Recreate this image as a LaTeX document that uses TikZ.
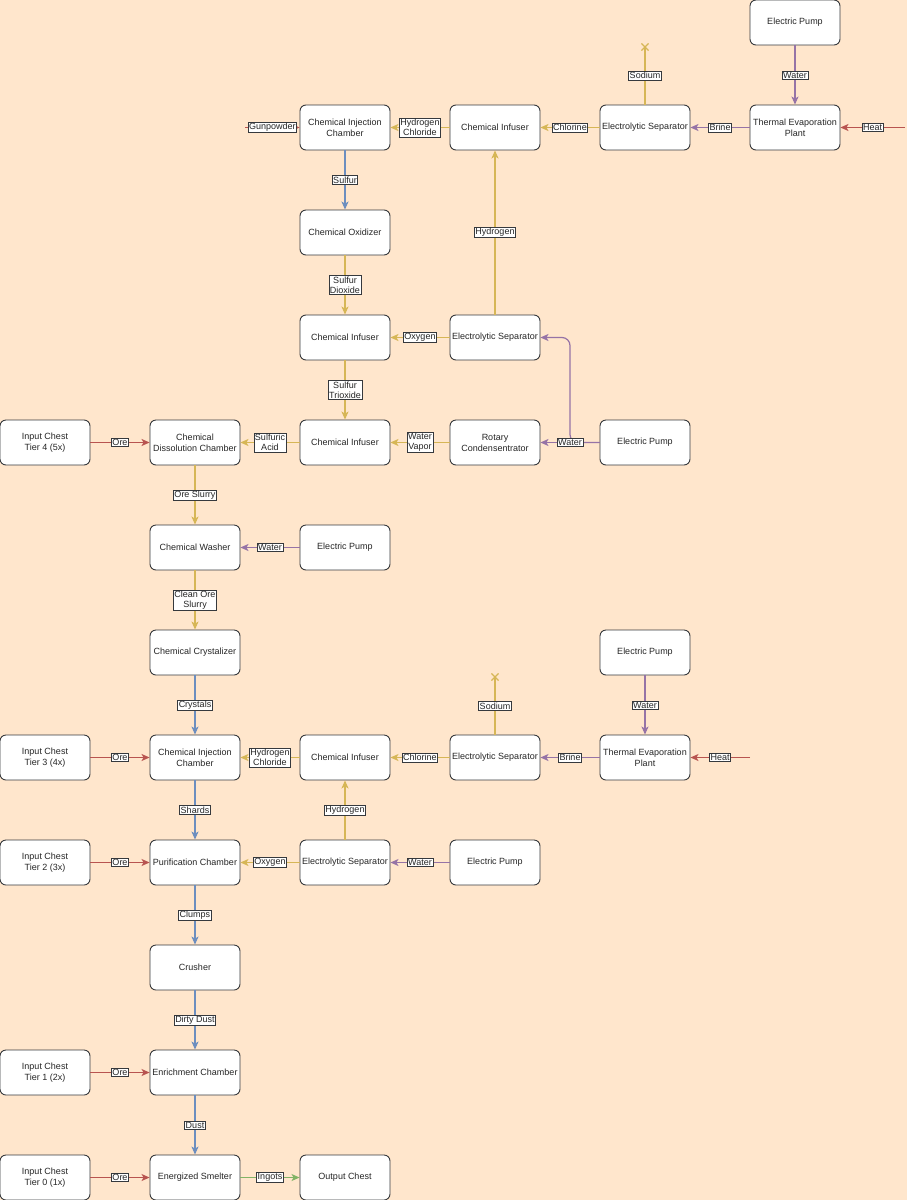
\documentclass[tikz,border=0pt]{standalone}
\usepackage{fontspec}
\setmainfont{Liberation Sans}
\usetikzlibrary{arrows.meta,shapes.misc}
\definecolor{bg}{HTML}{FFE6CC}
\definecolor{cred}{HTML}{B85450}
\definecolor{cpur}{HTML}{9673A6}
\definecolor{cyel}{HTML}{D6B656}
\definecolor{cblu}{HTML}{6C8EBF}
\definecolor{cgrn}{HTML}{82B366}
\definecolor{cbox}{HTML}{36393D}
\tikzset{
  box/.style={draw=cbox, fill=white, rounded corners=6pt, minimum width=90pt, minimum height=45pt, line width=0.9pt, align=center, font=\fontsize{9}{11}\selectfont, inner sep=1pt, text=black!85},
  lbl/.style={draw=cbox, fill=white, line width=0.6pt, inner sep=1pt, align=center, font=\fontsize{9}{10}\selectfont, text=black!85, rounded corners=0pt},
  flow/.style={line width=1.2pt, -{Stealth[length=8pt,width=7pt,inset=2pt]}},
  plain/.style={line width=1.2pt},
  fred/.style={flow, draw=cred},
  fpur/.style={flow, draw=cpur},
  fyel/.style={flow, draw=cyel},
  fblu/.style={flow, draw=cblu},
  fgrn/.style={flow, draw=cgrn},
  xmark/.style={cross out, draw=cyel, line width=1.1pt, minimum size=6pt, inner sep=0pt},
}
\begin{document}
\begin{tikzpicture}[x=1pt,y=-1pt]
\fill[bg] (0,0) rectangle (907,1200);
\useasboundingbox (0,0) rectangle (907,1200);
% row 0
\node[box] (ep1) at (795,22.5) {Electric Pump};
% row 1
\node[box] (tep1) at (795,127.5) {Thermal Evaporation\\Plant};
\node[box] (es1) at (645,127.5) {Electrolytic Separator};
\node[box] (ci1) at (495,127.5) {Chemical Infuser};
\node[box] (cic1) at (345,127.5) {Chemical Injection\\Chamber};
\coordinate (heat1) at (905,127.5);
\coordinate (gun) at (245,127.5);
\coordinate (sod1) at (645,47);
% row 2
\node[box] (cox) at (345,232.5) {Chemical Oxidizer};
% row 3
\node[box] (ci2) at (345,337.5) {Chemical Infuser};
\node[box] (es2) at (495,337.5) {Electrolytic Separator};
% row 4
\node[box] (ic4) at (45,442.5) {Input Chest\\Tier 4 (5x)};
\node[box] (cdc) at (195,442.5) {Chemical\\Dissolution Chamber};
\node[box] (ci3) at (345,442.5) {Chemical Infuser};
\node[box] (rc) at (495,442.5) {Rotary\\Condensentrator};
\node[box] (ep2) at (645,442.5) {Electric Pump};
\coordinate (bend) at (570,442.5);
% row 5
\node[box] (cw) at (195,547.5) {Chemical Washer};
\node[box] (ep3) at (345,547.5) {Electric Pump};
% row 6
\node[box] (cc) at (195,652.5) {Chemical Crystalizer};
\node[box] (ep4) at (645,652.5) {Electric Pump};
% row 7
\node[box] (ic3) at (45,757.5) {Input Chest\\Tier 3 (4x)};
\node[box] (cic2) at (195,757.5) {Chemical Injection\\Chamber};
\node[box] (ci4) at (345,757.5) {Chemical Infuser};
\node[box] (es3) at (495,757.5) {Electrolytic Separator};
\node[box] (tep2) at (645,757.5) {Thermal Evaporation\\Plant};
\coordinate (heat2) at (750,757.5);
\coordinate (sod2) at (495,677);
% row 8
\node[box] (ic2) at (45,862.5) {Input Chest\\Tier 2 (3x)};
\node[box] (pc) at (195,862.5) {Purification Chamber};
\node[box] (es4) at (345,862.5) {Electrolytic Separator};
\node[box] (ep5) at (495,862.5) {Electric Pump};
% row 9
\node[box] (cr) at (195,967.5) {Crusher};
% row 10
\node[box] (ic1) at (45,1072.5) {Input Chest\\Tier 1 (2x)};
\node[box] (ec) at (195,1072.5) {Enrichment Chamber};
% row 11
\node[box] (ic0) at (45,1177.5) {Input Chest\\Tier 0 (1x)};
\node[box] (esm) at (195,1177.5) {Energized Smelter};
\node[box] (oc) at (345,1177.5) {Output Chest};

% ---- edges, top section
\draw[fpur] (ep1) -- (tep1) node[lbl,midway] {Water};
\draw[fred] (heat1) -- (tep1) node[lbl,midway] {Heat};
\draw[fpur] (tep1) -- (es1) node[lbl,midway] {Brine};
\draw[plain,draw=cyel] (es1) -- (sod1) node[lbl,midway] {Sodium};
\node[xmark] (x1) at (sod1) {};
\draw[fyel] (es1) -- (ci1) node[lbl,midway] {Chlorine};
\draw[fyel] (ci1) -- (cic1) node[lbl,midway] {Hydrogen\\Chloride};
\draw[fred] (gun) -- (cic1) node[lbl,midway] {Gunpowder};
\draw[fblu] (cic1) -- (cox) node[lbl,midway] {Sulfur};
\draw[fyel] (cox) -- (ci2) node[lbl,midway] {Sulfur\\Dioxide};
\draw[fyel] (es2) -- (ci2) node[lbl,midway] {Oxygen};
\draw[fyel] (es2) -- (ci1) node[lbl,midway] {Hydrogen};
\draw[fpur, rounded corners=8pt] (ep2.west) -- (bend) |- (es2.east);
\draw[fpur] (ep2) -- (rc) node[lbl,pos=0.5] {Water};
\draw[fyel] (rc) -- (ci3) node[lbl,midway] {Water\\Vapor};
\draw[fyel] (ci2) -- (ci3) node[lbl,midway] {Sulfur\\Trioxide};
\draw[fyel] (ci3) -- (cdc) node[lbl,midway] {Sulfuric\\Acid};
\draw[fred] (ic4) -- (cdc) node[lbl,midway] {Ore};
\draw[fyel] (cdc) -- (cw) node[lbl,midway] {Ore Slurry};
\draw[fpur] (ep3) -- (cw) node[lbl,midway] {Water};
\draw[fyel] (cw) -- (cc) node[lbl,midway] {Clean Ore\\Slurry};
\draw[fblu] (cc) -- (cic2) node[lbl,midway] {Crystals};
% ---- lower section
\draw[fpur] (ep4) -- (tep2) node[lbl,midway] {Water};
\draw[fred] (heat2) -- (tep2) node[lbl,midway] {Heat};
\draw[fpur] (tep2) -- (es3) node[lbl,midway] {Brine};
\draw[plain,draw=cyel] (es3) -- (sod2) node[lbl,midway] {Sodium};
\node[xmark] (x2) at (sod2) {};
\draw[fyel] (es3) -- (ci4) node[lbl,midway] {Chlorine};
\draw[fyel] (ci4) -- (cic2) node[lbl,midway] {Hydrogen\\Chloride};
\draw[fred] (ic3) -- (cic2) node[lbl,midway] {Ore};
\draw[fblu] (cic2) -- (pc) node[lbl,midway] {Shards};
\draw[fyel] (es4) -- (ci4) node[lbl,midway] {Hydrogen};
\draw[fpur] (ep5) -- (es4) node[lbl,midway] {Water};
\draw[fyel] (es4) -- (pc) node[lbl,midway] {Oxygen};
\draw[fred] (ic2) -- (pc) node[lbl,midway] {Ore};
\draw[fblu] (pc) -- (cr) node[lbl,midway] {Clumps};
\draw[fblu] (cr) -- (ec) node[lbl,midway] {Dirty Dust};
\draw[fred] (ic1) -- (ec) node[lbl,midway] {Ore};
\draw[fblu] (ec) -- (esm) node[lbl,midway] {Dust};
\draw[fred] (ic0) -- (esm) node[lbl,midway] {Ore};
\draw[fgrn] (esm) -- (oc) node[lbl,midway] {Ingots};
\end{tikzpicture}
\end{document}
